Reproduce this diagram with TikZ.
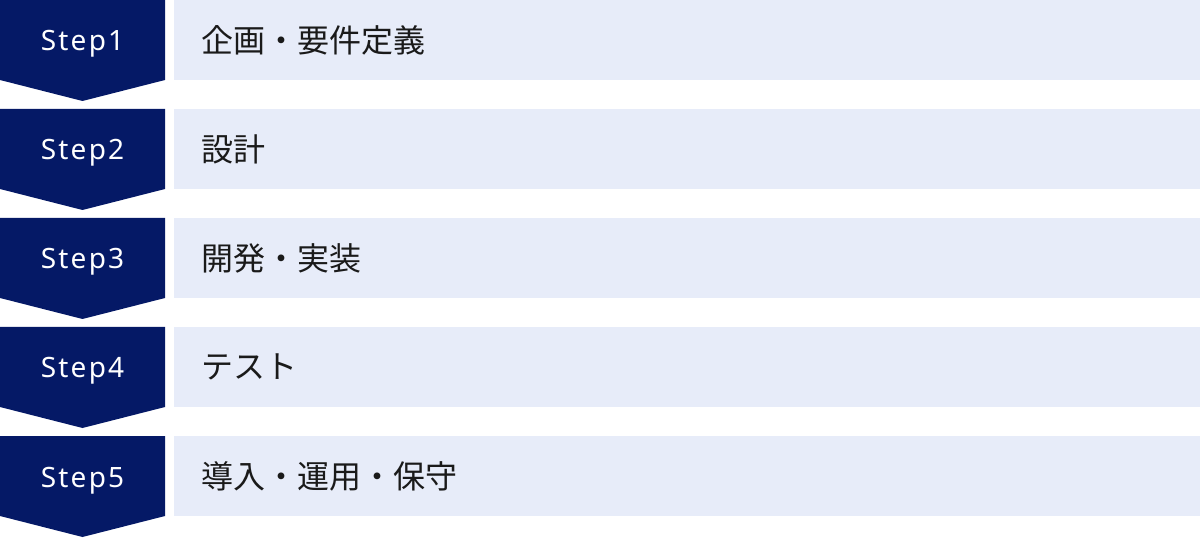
\documentclass[tikz,border=0pt]{standalone}
\usepackage{fontspec}
\setmainfont{Noto Sans}
\newfontfamily\jpfont{Noto Sans CJK JP}
\newfontfamily\stepfont[LetterSpace=8]{Noto Sans}
\usepackage{tikz}
\usetikzlibrary{positioning}
\definecolor{stepnavy}{HTML}{051966}
\definecolor{stepback}{HTML}{E7ECF9}
\definecolor{steptext}{HTML}{1A1A1A}

\tikzset{
  stepnum/.style={white, inner sep=0pt, anchor=base, font=\stepfont\fontsize{21pt}{24pt}\selectfont},
  steplabel/.style={text=steptext, inner sep=0pt, anchor=west, font=\jpfont\fontsize{24pt}{28pt}\selectfont}
}

\begin{document}
\begin{tikzpicture}[x=0.75pt, y=-0.75pt]

	\def\h{109};
	\def\w{165};
	\def\b{80};

	\useasboundingbox (0,0) rectangle (1200,538);

	%draw steps
    \foreach \i/\num/\txt/\name in {0/1/企画・要件定義/plan,1/2/設計/design,2/3/開発・実装/impl,3/4/テスト/test,4/5/導入・運用・保守/ops}{
         \fill[stepnavy] (0, \i*\h) -- (\w, \i*\h) -- (\w, \i*\h+\b) -- (\w/2, \i*\h+101) -- (0, \i*\h+\b) -- cycle;
         \fill[stepback] (174, \i*\h) rectangle (1200, \i*\h+\b);
         \node[stepnum] (n\name) at (\w/2, \i*\h+51) {Step\num};
         \node[steplabel] (l\name) at (201, \i*\h+\b/2) {\txt};
    }

\end{tikzpicture}
\end{document}
